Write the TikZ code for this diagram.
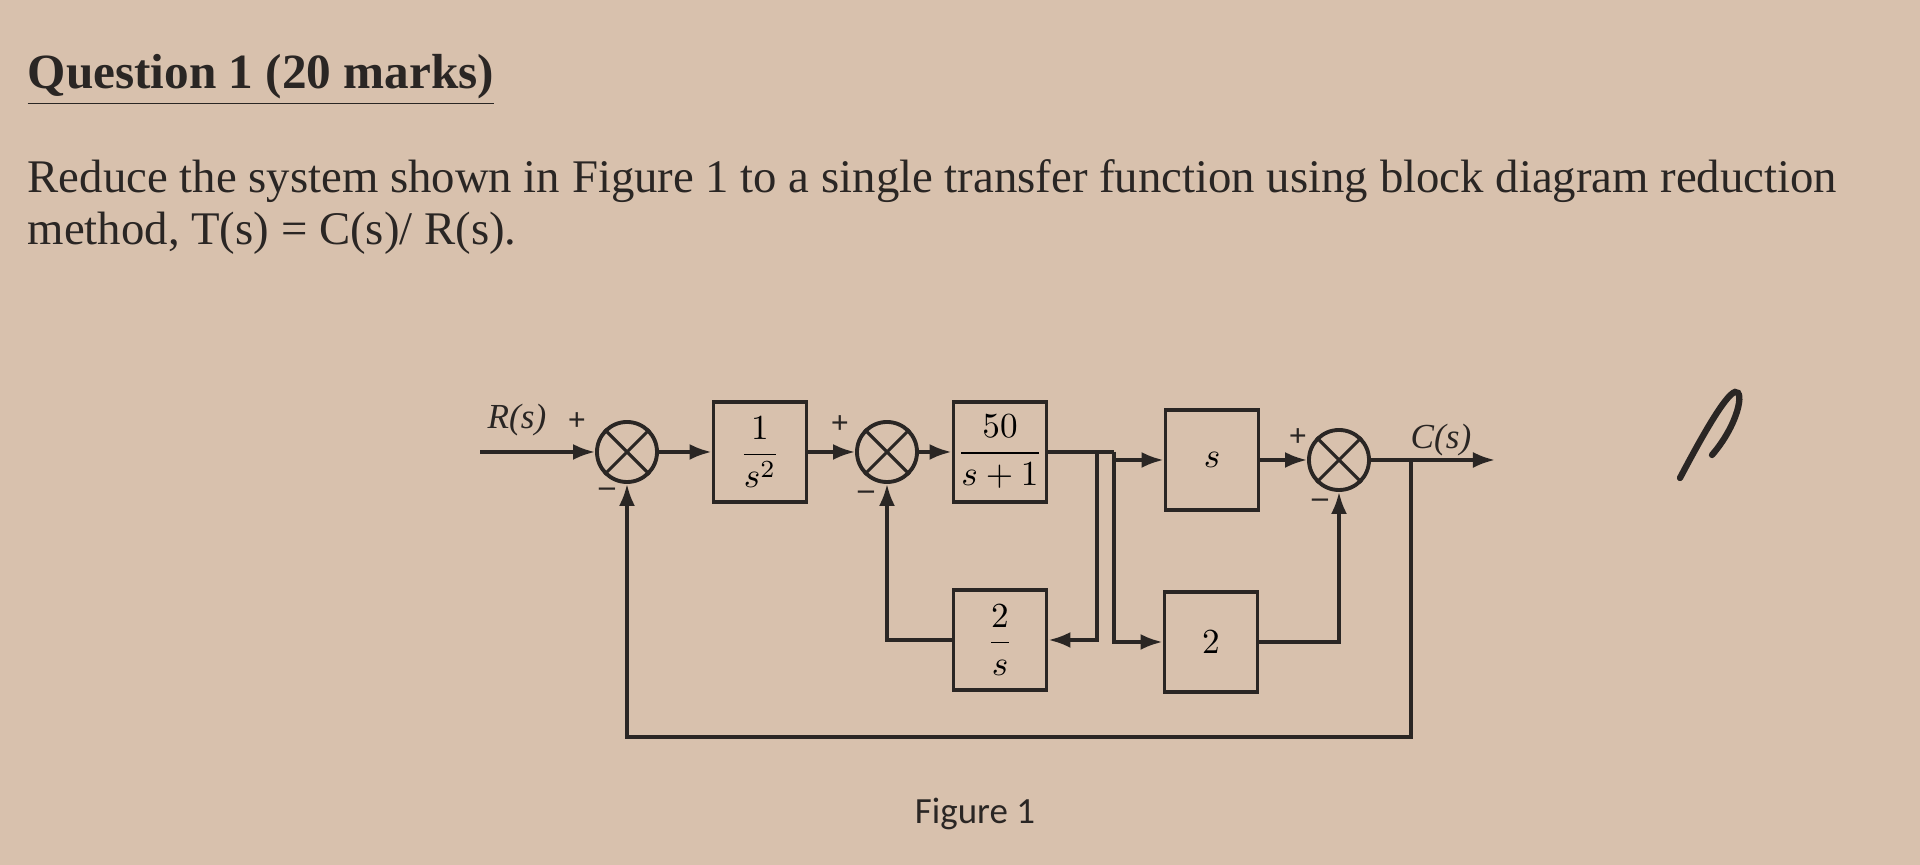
\documentclass[tikz,border=0pt]{standalone}
\usepackage{fontspec}
\setmainfont{Liberation Serif}
\newfontfamily\figfont{Carlito}
\usetikzlibrary{arrows.meta}
\definecolor{paper}{HTML}{D8C1AD}
\definecolor{ink}{HTML}{2A2624}
\tikzset{
  blk/.style={draw=ink,line width=1.1pt,minimum width=0.93cm,minimum height=1.0cm,inner sep=0pt,font=\fontsize{10}{11}\selectfont},
  sumj/.style={draw=ink,line width=1.1pt,circle,minimum size=0.6cm,inner sep=0pt},
  wire/.style={draw=ink,line width=1pt},
  arr/.style={wire,-{Latex[length=2.2mm,width=1.6mm]}},
  sgn/.style={font=\fontsize{9}{10}\selectfont\bfseries,text=ink,inner sep=0pt},
  lbl/.style={font=\fontsize{10}{11}\selectfont\itshape,text=ink,inner sep=0pt}
}
\newcommand{\crossX}[1]{\draw[ink,line width=0.9pt] (#1.north west)--(#1.south east) (#1.north east)--(#1.south west);}
\begin{document}
\begin{tikzpicture}[x=0.01cm,y=-0.01cm]
\fill[paper] (0,0) rectangle (1920,865);
\useasboundingbox (0,0) rectangle (1920,865);
% texts
\node[anchor=west,inner sep=0pt,font=\fontsize{14}{16}\selectfont\bfseries,text=ink] (title) at (27,80) {\underline{Question 1 (20 marks)}};
\node[anchor=west,inner sep=0pt,font=\fontsize{13.3}{15}\selectfont,text=ink] (l1) at (27,181) {Reduce the system shown in Figure 1 to a single transfer function using block diagram reduction};
\node[anchor=west,inner sep=0pt,font=\fontsize{13.3}{15}\selectfont,text=ink] (l2) at (27,233) {method, T(s) = C(s)/ R(s).};
\node[inner sep=0pt,font=\figfont\fontsize{10.5}{12}\selectfont,text=ink] (fig) at (975,814) {Figure 1};
% diagram
\coordinate (in) at (480,452);
\node[sumj] (s1) at (627,452) {}; \crossX{s1}
\node[blk] (g1) at (760,452) {$\displaystyle\frac{1}{s^2}$};
\node[sumj] (s2) at (887,452) {}; \crossX{s2}
\node[blk] (g2) at (1000,452) {$\displaystyle\frac{50}{s+1}$};
\node[blk] (g3) at (1212,460) {$s$};
\node[sumj] (s3) at (1339,460) {}; \crossX{s3}
\coordinate (out) at (1495,460);
\node[blk] (h1) at (1000,640) {$\displaystyle\frac{2}{s}$};
\node[blk] (h2) at (1211,642) {$2$};
\coordinate (b1) at (1097,452);
\coordinate (b2) at (1114,452);
\coordinate (bo) at (1411,460);
\node[lbl] (R) at (517,420) {R(s)};
\node[lbl] (C) at (1441,440) {C(s)};
\node[sgn] at (577,422) {+};
\node[sgn] at (607,492) {--};
\node[sgn] at (840,425) {+};
\node[sgn] at (866,495) {--};
\node[sgn] at (1298,438) {+};
\node[sgn] at (1320,503) {--};
\draw[arr] (in) -- (s1.west);
\draw[arr] (s1.east) -- (g1.west);
\draw[arr] (g1.east) -- (s2.west);
\draw[arr] (s2.east) -- (g2.west);
\draw[wire] (g2.east) -- (b2);
\draw[arr] (b2) |- (g3.west);
\draw[arr] (g3.east) -- (s3.west);
\draw[arr] (s3.east) -- (out);
\draw[arr] (b1) |- (h1.east);
\draw[arr] (h1.west) -| (s2.south);
\draw[arr] (b2) |- (h2.west);
\draw[arr] (h2.east) -| (s3.south);
\draw[arr] (bo) |- (627,737) -- (s1.south);
% pen mark
\draw[ink,line width=1.8pt,line cap=round] (1680,478) .. controls (1700,440) and (1725,395) .. (1735,392) .. controls (1745,390) and (1738,425) .. (1712,455);
\end{tikzpicture}
\end{document}
